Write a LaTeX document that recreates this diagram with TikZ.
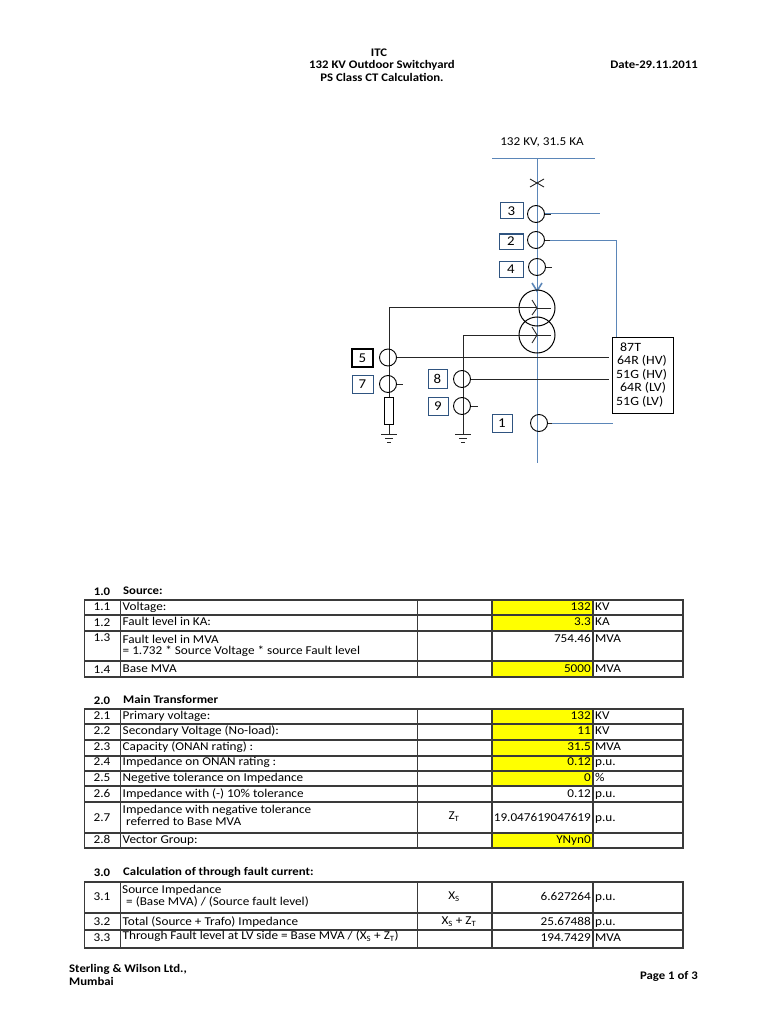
\documentclass[tikz,border=0pt]{standalone}
\usepackage{fontspec}
\setmainfont[FakeStretch=1.1]{Carlito}
\definecolor{wireblue}{HTML}{5B86B8}
\definecolor{boxblue}{HTML}{2F5480}
\definecolor{gridgrey}{HTML}{3A3A3A}
\definecolor{cellyellow}{RGB}{255,255,0}
\tikzset{
  ct/.style={draw,circle,minimum size=17pt,inner sep=0pt,line width=.9pt},
  tx/.style={draw,circle,minimum size=36pt,inner sep=0pt,line width=1pt},
  numbox/.style={draw=boxblue,line width=1pt,minimum width=22pt,minimum height=17pt,inner sep=0pt,font=\fontsize{13.5}{13.5}\selectfont},
  wire/.style={line width=.9pt,black!85},
  feed/.style={line width=1pt,wireblue},
  txt/.style={inner sep=0pt,text height=9pt,text depth=1.5pt,font=\fontsize{12}{12}\selectfont,anchor=west},
  val/.style={inner sep=0pt,text height=9pt,text depth=1.5pt,font=\fontsize{12}{12}\selectfont,anchor=east},
  mid/.style={inner sep=0pt,text height=9pt,text depth=1.5pt,font=\fontsize{12}{12}\selectfont},
  head/.style={inner sep=0pt,text height=9pt,text depth=1.5pt,font=\bfseries\fontsize{11.6}{12}\selectfont},
  relay/.style={inner sep=0pt,text height=10pt,text depth=2pt,font=\fontsize{12.6}{12}\selectfont,anchor=west},
  gridline/.style={line width=1.2pt,gridgrey},
  hl/.style={fill=cellyellow}
}
\begin{document}
\begin{tikzpicture}[x=1pt,y=-1pt]
  \useasboundingbox[fill=white] (0,0) rectangle (768,1024);
  % title block
  \node[head] (ttl1) at (379,53) {ITC};
  \node[head] (ttl2) at (382,65) {132 KV Outdoor Switchyard};
  \node[head] (ttl3) at (382,78) {PS Class CT Calculation.};
  \node[head,anchor=east] (date) at (698,65) {Date-29.11.2011};
  % single line diagram
  \node[mid] (buslabel) at (542,142) {132 KV, 31.5 KA};
  \coordinate (busl) at (492,159);
  \coordinate (busr) at (595,159);
  \coordinate (bustap) at (537,159);
  \coordinate (lineend) at (537,463);
  \draw[feed] (busl) -- (busr);
  \draw[feed] (bustap) -- (lineend);
  \coordinate (brk) at (537,183);
  \draw[wire] (530,179) -- (544,187);
  \draw[wire] (530,187) -- (544,179);
  \node[ct] (ct3) at (536,214) {};
  \node[ct] (ct2) at (536,240) {};
  \node[ct] (ct4) at (537,267) {};
  \node[ct] (ct1) at (539,423) {};
  \coordinate (ct3end) at (600,214);
  \coordinate (ct2bend) at (616,240);
  \coordinate (ct1end) at (613,423);
  \coordinate (ct4end) at (552,267);
  \draw[feed] (ct3) -- (ct3end);
  \draw[wire] (ct3.east) -- +(6,0);
  \draw[feed] (ct1) -- (ct1end);
  \draw[wire] (ct1.east) -- +(4,0);
  \draw[wire] (ct4.east) -- (ct4end);
  \draw[line width=1.6pt,wireblue] (532,283) -- (537,291) -- (542,283);
  % transformer
  \node[tx] (txhv) at (537,308) {};
  \node[tx] (txlv) at (537,335) {};
  \draw[wire] (532,300) -- (537,308) -- (532,315);
  \draw[wire] (537,308) -- (551,308);
  \draw[wire] (532,327) -- (537,335) -- (532,343);
  \draw[wire] (537,335) -- (551,335);
  % relay panel
  \node[draw,line width=1pt,minimum width=61pt,minimum height=76pt,inner sep=0pt,anchor=north west,fill=white] (panel) at (612,337) {};
  \draw[feed] (ct2) -- (ct2bend) -- (panel.north west -| ct2bend);
  \draw[wire] (ct2.east) -- +(5,0);
  \node[relay] (r1) at (620,347) {87T};
  \node[relay] (r2) at (617,360) {64R (HV)};
  \node[relay] (r3) at (616,374) {51G (HV)};
  \node[relay] (r4) at (620,387) {64R (LV)};
  \node[relay] (r5) at (616,401) {51G (LV)};
  % neutral side hv
  \coordinate (hvturn) at (389,307);
  \coordinate (hvgnd) at (389,434);
  \draw[wire] (537,307) -- (hvturn) -- (hvgnd);
  \node[ct] (ct5) at (388,357.5) {};
  \node[ct] (ct7) at (388,384) {};
  \node[draw,fill=white,line width=.9pt,minimum width=8.5pt,minimum height=27pt,inner sep=0pt] (res) at (389,411) {};
  \coordinate (ct7end) at (403,384);
  \coordinate (ct5end) at (609,357.5);
  \draw[wire] (ct7.east) -- (ct7end);
  \draw[wire] (ct5.east) -- (ct5end);
  \draw[wire] (381,434) -- (397,434);
  \draw[wire] (385,438) -- (393,438);
  \draw[wire] (387,442) -- (391,442);
  % neutral side lv
  \coordinate (lvturn) at (463,335);
  \coordinate (lvgnd) at (463,434);
  \draw[wire] (537,335) -- (lvturn) -- (lvgnd);
  \node[ct] (ct8) at (462,379) {};
  \node[ct] (ct9) at (462,406) {};
  \coordinate (ct9end) at (478,406);
  \coordinate (ct8end) at (609,379);
  \draw[wire] (ct9.east) -- (ct9end);
  \draw[wire] (ct8.east) -- (ct8end);
  \draw[wire] (455,434) -- (471,434);
  \draw[wire] (459,438) -- (467,438);
  \draw[wire] (461,442) -- (465,442);
  % ct numbers
  \node[numbox,minimum width=23pt,minimum height=16pt] (n3) at (511.5,211) {3};
  \node[numbox,minimum width=24pt,minimum height=15pt] (n2) at (511,241.5) {2};
  \node[numbox,minimum width=24pt,minimum height=16pt] (n4) at (511,269) {4};
  \node[numbox,draw=black,line width=1.2pt,minimum width=21pt,minimum height=18pt] (n5) at (362.5,358) {5};
  \node[numbox,minimum width=21pt,minimum height=18pt] (n7) at (362.5,384) {7};
  \node[numbox,minimum width=19pt,minimum height=19pt] (n8) at (437.5,378.5) {8};
  \node[numbox,minimum width=20pt,minimum height=18pt] (n9) at (438,406) {9};
  \node[numbox,minimum width=20pt,minimum height=18pt] (n1) at (502,423) {1};
  % yellow cells
  \fill[hl] (492,600) rectangle (593,631);
  \fill[hl] (492,661) rectangle (593,677);
  \fill[hl] (492,709) rectangle (593,786);
  \fill[hl] (492,833) rectangle (593,848);
  % table 1
  \draw[gridline] (84.5,600) rectangle (683,677);
  \draw[gridline] (84.5,615) -- (683,615);
  \draw[gridline] (84.5,631) -- (683,631);
  \draw[gridline] (84.5,661) -- (683,661);
  \draw[gridline] (120.5,600) -- (120.5,677);
  \draw[gridline] (417.5,600) -- (417.5,677);
  \draw[gridline] (492,600) -- (492,677);
  \draw[gridline] (593,600) -- (593,677);
  % table 2
  \draw[gridline] (84.5,709) rectangle (683,848);
  \draw[gridline] (84.5,724) -- (683,724);
  \draw[gridline] (84.5,740) -- (683,740);
  \draw[gridline] (84.5,756) -- (683,756);
  \draw[gridline] (84.5,771) -- (683,771);
  \draw[gridline] (84.5,786) -- (683,786);
  \draw[gridline] (84.5,802) -- (683,802);
  \draw[gridline] (84.5,833) -- (683,833);
  \draw[gridline] (120.5,709) -- (120.5,848);
  \draw[gridline] (417.5,709) -- (417.5,848);
  \draw[gridline] (492,709) -- (492,848);
  \draw[gridline] (593,709) -- (593,848);
  % table 3
  \draw[gridline] (84.5,882) rectangle (683,948);
  \draw[gridline] (84.5,913) -- (683,913);
  \draw[gridline] (84.5,930) -- (683,930);
  \draw[gridline] (120.5,882) -- (120.5,948);
  \draw[gridline] (417.5,882) -- (417.5,948);
  \draw[gridline] (492,882) -- (492,948);
  \draw[gridline] (593,882) -- (593,948);
  % section 1
  \node[head] (s1n) at (102,591.5) {1.0};
  \node[head,anchor=west] (s1t) at (123,590.5) {Source:};
  \node[mid] (c11) at (102,607) {1.1};
  \node[txt] (a11) at (122.5,607) {Voltage:};
  \node[val] (v11) at (591,607) {132};
  \node[txt] (u11) at (595,607) {KV};
  \node[mid] (c12) at (102,623) {1.2};
  \node[txt] (a12) at (122.5,622) {Fault level in KA:};
  \node[val] (v12) at (591,622) {3.3};
  \node[txt] (u12) at (595,622) {KA};
  \node[mid] (c13) at (102,638) {1.3};
  \node[txt] (a13) at (122.5,639.5) {Fault level in MVA};
  \node[txt] (b13) at (122.5,651) {= 1.732 * Source Voltage * source Fault level};
  \node[val] (v13) at (591,638.5) {754.46};
  \node[txt] (u13) at (595,638.5) {MVA};
  \node[mid] (c14) at (102,669.5) {1.4};
  \node[txt] (a14) at (122.5,668.5) {Base MVA};
  \node[val] (v14) at (591,668.5) {5000};
  \node[txt] (u14) at (595,668.5) {MVA};
  % section 2
  \node[head] (s2n) at (102,700.5) {2.0};
  \node[head,anchor=west] (s2t) at (123,699.5) {Main Transformer};
  \node[mid] (c21) at (102,715.5) {2.1};
  \node[txt] (a21) at (122.5,715.5) {Primary voltage:};
  \node[val] (v21) at (591,715.5) {132};
  \node[txt] (u21) at (595,715.5) {KV};
  \node[mid] (c22) at (102,731) {2.2};
  \node[txt] (a22) at (122.5,731) {Secondary Voltage (No-load):};
  \node[val] (v22) at (591,731) {11};
  \node[txt] (u22) at (595,731) {KV};
  \node[mid] (c23) at (102,747) {2.3};
  \node[txt] (a23) at (122.5,747) {Capacity (ONAN rating) :};
  \node[val] (v23) at (591,747) {31.5};
  \node[txt] (u23) at (595,747) {MVA};
  \node[mid] (c24) at (102,762) {2.4};
  \node[txt] (a24) at (122.5,762) {Impedance on ONAN rating :};
  \node[val] (v24) at (591,762) {0.12};
  \node[txt] (u24) at (595,762) {p.u.};
  \node[mid] (c25) at (102,777.5) {2.5};
  \node[txt] (a25) at (122.5,777.5) {Negetive tolerance on Impedance};
  \node[val] (v25) at (591,777.5) {0};
  \node[txt] (u25) at (595,777.5) {\%};
  \node[mid] (c26) at (102,793.5) {2.6};
  \node[txt] (a26) at (122.5,793.5) {Impedance with (-) 10\% tolerance};
  \node[val] (v26) at (591,793.5) {0.12};
  \node[txt] (u26) at (595,793.5) {p.u.};
  \node[mid] (c27) at (102,817.5) {2.7};
  \node[txt] (a27) at (122.5,810) {Impedance with negative tolerance};
  \node[txt] (b27) at (126,822) {referred to Base MVA};
  \node[mid] (z27) at (454,816) {Z\textsubscript{T}};
  \node[val] (v27) at (591,817.5) {19.047619047619};
  \node[txt] (u27) at (595,817.5) {p.u.};
  \node[mid] (c28) at (102,840) {2.8};
  \node[txt] (a28) at (122.5,840) {Vector Group:};
  \node[val] (v28) at (591,840) {YNyn0};
  % section 3
  \node[head] (s3n) at (102,873) {3.0};
  \node[head,anchor=west] (s3t) at (123,872) {Calculation of through fault current:};
  \node[mid] (c31) at (102,897) {3.1};
  \node[txt] (a31) at (122,890) {Source Impedance};
  \node[txt] (b31) at (126,902) {= (Base MVA) / (Source fault level)};
  \node[mid] (z31) at (454,896) {X\textsubscript{S}};
  \node[val] (v31) at (591,897) {6.627264};
  \node[txt] (u31) at (595,897) {p.u.};
  \node[mid] (c32) at (102,921.5) {3.2};
  \node[txt] (a32) at (122.5,921.5) {Total (Source + Trafo) Impedance};
  \node[mid] (z32) at (459,920.5) {X\textsubscript{S} + Z\textsubscript{T}};
  \node[val] (v32) at (591,921.5) {25.67488};
  \node[txt] (u32) at (595,921.5) {p.u.};
  \node[mid] (c33) at (102,938) {3.3};
  \node[txt] (a33) at (122.5,936) {Through Fault level at LV side = Base MVA / (X\textsubscript{S} + Z\textsubscript{T})};
  \node[val] (v33) at (591,938) {194.7429};
  \node[txt] (u33) at (595,938) {MVA};
  % footer
  \node[head,anchor=west] (ft1) at (69,969) {Sterling \& Wilson Ltd.,};
  \node[head,anchor=west] (ft2) at (69,981.5) {Mumbai};
  \node[head,anchor=east] (ft3) at (698,975.5) {Page 1 of 3};
\end{tikzpicture}
\end{document}
